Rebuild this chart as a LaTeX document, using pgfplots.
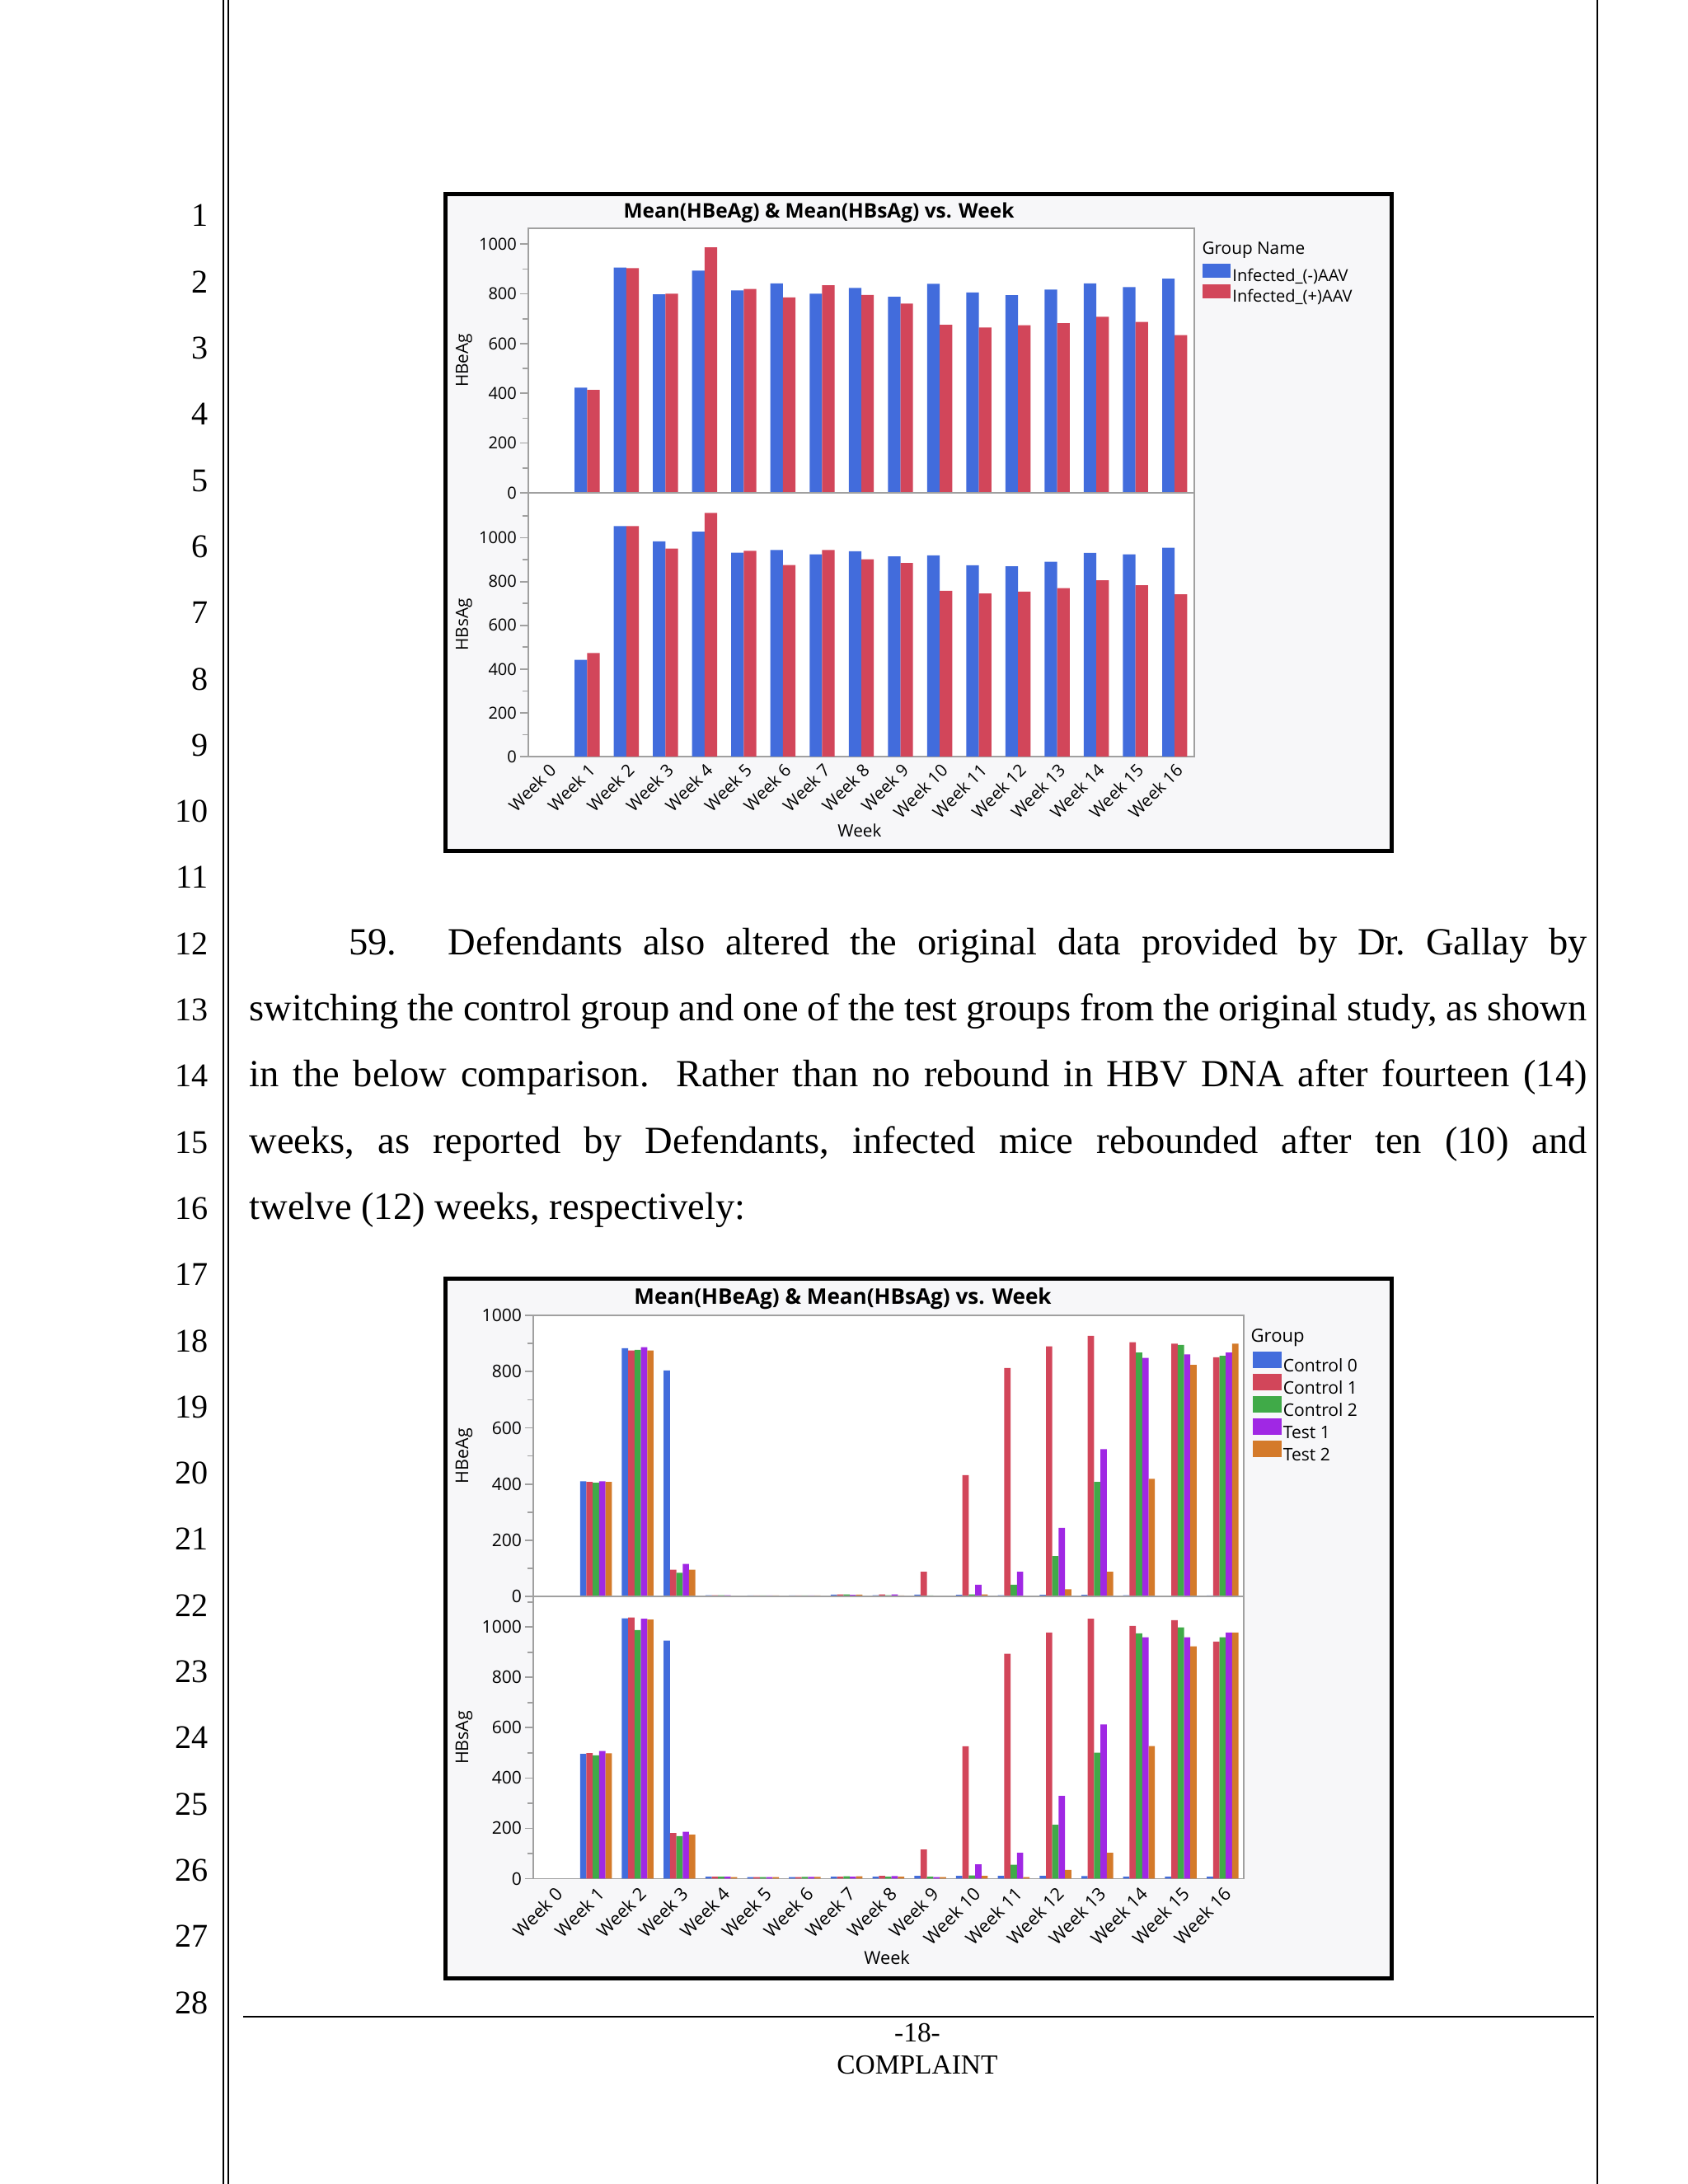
\documentclass[border=0pt]{standalone}
\usepackage{pgfplots}
\pgfplotsset{compat=1.18}
\usepackage{pgfplotstable}
\usepackage{fontspec}
\setmainfont{Liberation Serif}
\newfontfamily\cf{Open Sans}
\definecolor{jblue}{RGB}{66,108,220}
\definecolor{jred}{RGB}{210,70,90}
\definecolor{jgreen}{RGB}{64,170,72}
\definecolor{jpurple}{RGB}{160,40,228}
\definecolor{jorange}{RGB}{212,122,42}
\definecolor{jbg}{RGB}{247,247,249}
\definecolor{jframe}{RGB}{160,160,160}

% Chart 1: HBeAg
\pgfplotstableread{
x neg pos
1 423 414
2 906 904
3 798 801
4 894 987
5 814 820
6 842 786
7 801 835
8 824 796
9 788 761
10 841 676
11 806 665
12 795 674
13 817 682
14 842 708
15 827 687
16 861 634
}\cAe
% Chart 1: HBsAg
\pgfplotstableread{
x neg pos
1 442 473
2 1054 1054
3 984 951
4 1028 1114
5 932 941
6 945 876
7 925 945
8 939 902
9 915 885
10 920 758
11 875 746
12 870 754
13 891 770
14 931 806
15 925 783
16 955 742
}\cAs
% Chart 2: HBeAg
\pgfplotstableread{
x c0 c1 c2 t1 t2
1 410 408 405 410 408
2 883 875 877 887 875
3 804 96 85 116 96
4 5 5 5 5 3
5 4 4 4 4 4
6 4 4 4 4 4
7 7 8 8 6 7
8 5 8 5 8 4
9 7 88 4 2 2
10 6 432 8 42 8
11 5 813 42 88 2
12 6 890 144 244 26
13 6 927 408 524 88
14 5 904 868 849 419
15 3 899 895 861 824
16 4 851 856 868 899
}\cBe
% Chart 2: HBsAg
\pgfplotstableread{
x c0 c1 c2 t1 t2
1 496 499 490 507 498
2 1035 1038 988 1033 1030
3 946 181 169 186 175
4 8 8 8 8 6
5 6 6 6 6 6
6 6 6 7 7 7
7 8 8 9 8 9
8 8 11 8 10 8
9 11 116 8 6 6
10 11 526 13 57 11
11 11 894 55 103 6
12 11 978 214 329 35
13 10 1033 501 613 103
14 8 1004 975 959 527
15 8 1027 999 959 923
16 8 942 959 978 978
}\cBs

\pgfplotsset{
  jmp/.style={
    scale only axis, clip=false,
    xmin=-0.5, xmax=16.5, ymin=0,
    axis background/.style={fill=white},
    axis line style={draw=jframe, line width=0.5pt},
    tick align=outside, ytick pos=left,
    major tick length=3pt, minor tick length=2.2pt,
    tick style={draw=jframe, line width=0.5pt},
    ytick={0,200,...,1000}, minor ytick={100,300,...,1100},
    xtick style={draw=none},
    /pgf/number format/assume math mode=true,
    /pgf/number format/1000 sep={},
    legend cell align=left,
  },
  jlegA/.style={draw=none, legend image code/.code={\fill[##1] (0pt,-0.4pt) rectangle (10.2pt,4.7pt);}},
  jlegB/.style={draw=none, legend image code/.code={\fill[##1] (0pt,-0.5pt) rectangle (10.5pt,5.5pt);}},
}
\newcommand\wk{Week 0,Week 1,Week 2,Week 3,Week 4,Week 5,Week 6,Week 7,Week 8,Week 9,Week 10,Week 11,Week 12,Week 13,Week 14,Week 15,Week 16}

\begin{document}
\begin{tikzpicture}
\useasboundingbox (0,0) rectangle (612pt,791.894pt);
\fill[white] (0,0) rectangle (612pt,791.894pt);

\begin{scope}[shift={(0pt,791.894pt)}, x=0.298828pt, y=-0.298828pt]
  % pleading-paper rules
  \draw[line width=0.6pt] (270.7,0) -- (270.7,2650);
  \draw[line width=0.6pt] (277.3,0) -- (277.3,2650);
  \draw[line width=0.6pt] (1938,0) -- (1938,2650);
  \foreach \n in {1,...,28} {
    \node[anchor=base east, inner sep=0pt, font=\fontsize{12}{14}\selectfont] at (253,{275+80.3*(\n-1)}) {\n};
  }
  % paragraph
  \node[anchor=base west, inner sep=0pt] at (302,1158.3) {\vtop{\hsize=485pt \parindent=0pt \leftskip=0pt \rightskip=0pt \parfillskip=0pt plus 1fil
    \fontsize{13.9}{24}\selectfont \frenchspacing \tolerance=9999
    \noindent\hspace*{36pt}\makebox[36pt][l]{59.}Defendants also altered the original data provided by Dr. Gallay by\linebreak
    switching the control group and one of the test groups from the original study, as shown\linebreak
    in the below comparison.\ \ Rather than no rebound in HBV DNA after fourteen (14)\linebreak
    weeks, as reported by Defendants, infected mice rebounded after ten (10) and\linebreak
    twelve (12) weeks, respectively:\par}};
  % footer
  \draw[line width=0.6pt] (295,2446.7) -- (1934,2446.7);
  \node[anchor=base, inner sep=0pt, font=\fontsize{10}{12}\selectfont] at (1113,2477) {-18-};
  \node[anchor=base, inner sep=0pt, font=\fontsize{10}{12}\selectfont] at (1113,2517) {COMPLAINT};
  % chart frames
  \fill[jbg] (540.5,235.5) rectangle (1688.5,1032.5);
  \draw[line width=1.5pt] (540.5,235.5) rectangle (1688.5,1032.5);
  \fill[jbg] (540.5,1551.5) rectangle (1688.5,2400.5);
  \draw[line width=1.5pt] (540.5,1551.5) rectangle (1688.5,2400.5);
  % titles
  \node[anchor=base, inner sep=0pt, font=\cf\bfseries\fontsize{7.3}{8}\selectfont] at (993.5,264.7) {Mean(HBeAg) \& Mean(HBsAg) vs. Week};
  \node[anchor=base, inner sep=0pt, font=\cf\bfseries\fontsize{7.8}{9}\selectfont] at (1022.5,1582.3) {Mean(HBeAg) \& Mean(HBsAg) vs. Week};
\end{scope}

% ===== Chart 1 top: HBeAg =====
\begin{axis}[jmp, at={(191.55pt,613.20pt)}, anchor=south west,
  width=241.45pt, height=95.92pt, ymax=1064,
  xtick=\empty,
  yticklabel style={font=\cf\fontsize{6}{7}\selectfont, inner sep=1pt},
  ylabel={HBeAg},
  ylabel style={font=\cf\fontsize{6.2}{7}\selectfont, at={(axis description cs:-0.0965,0.5)}, anchor=center},
  legend style={at={(axis description cs:1.012,0.868)}, anchor=north west, draw=none, fill=none,
    inner sep=0pt, font=\cf\fontsize{6}{7}\selectfont, row sep=-1pt,
    nodes={inner sep=0.6pt, text height=4.85pt, text depth=1.4pt}},
]
\addplot[ybar, jlegA, bar width=0.32, bar shift=-0.16, fill=jblue] table[x=x,y=neg]{\cAe};
\addplot[ybar, jlegA, bar width=0.32, bar shift=0.16, fill=jred] table[x=x,y=pos]{\cAe};
\legend{Infected\_(-)AAV, Infected\_(+)AAV}
\node[anchor=west, inner sep=0pt, font=\cf\fontsize{6.2}{7}\selectfont] at (axis description cs:1.011,0.919) {Group Name};
\end{axis}

% ===== Chart 1 bottom: HBsAg =====
\begin{axis}[jmp, at={(191.55pt,517.57pt)}, anchor=south west,
  width=241.45pt, height=95.62pt, ymax=1206,
  xtick={0,...,16}, xticklabels/.expand once=\wk,
  xticklabel shift=-2.5pt,
  xticklabel style={rotate=45, anchor=north east, inner sep=1pt, font=\cf\fontsize{6.2}{7}\selectfont},
  yticklabel style={font=\cf\fontsize{6}{7}\selectfont, inner sep=1pt},
  ylabel={HBsAg},
  ylabel style={font=\cf\fontsize{6.2}{7}\selectfont, at={(axis description cs:-0.0965,0.5)}, anchor=center},
  xlabel={Week},
  xlabel style={font=\cf\fontsize{6.2}{7}\selectfont, at={(axis description cs:0.4975,-0.281)}, anchor=center},
]
\addplot[ybar, jlegA, bar width=0.32, bar shift=-0.16, fill=jblue] table[x=x,y=neg]{\cAs};
\addplot[ybar, jlegA, bar width=0.32, bar shift=0.16, fill=jred] table[x=x,y=pos]{\cAs};
\end{axis}

% ===== Chart 2 top: HBeAg =====
\begin{axis}[jmp, at={(193.34pt,212.98pt)}, anchor=south west,
  width=257.50pt, height=101.99pt, ymax=1000,
  xtick=\empty,
  yticklabel style={font=\cf\fontsize{6.3}{7}\selectfont, inner sep=1pt},
  ylabel={HBeAg},
  ylabel style={font=\cf\fontsize{6.4}{7}\selectfont, at={(axis description cs:-0.0975,0.5)}, anchor=center},
  legend style={at={(axis description cs:1.012,0.873)}, anchor=north west, draw=none, fill=none,
    inner sep=0pt, font=\cf\fontsize{6.3}{7}\selectfont, row sep=-1.5pt,
    nodes={inner sep=0.6pt, text height=5.3pt, text depth=1.6pt}},
]
\addplot[ybar, jlegB, bar width=0.152, bar shift=-0.304, fill=jblue] table[x=x,y=c0]{\cBe};
\addplot[ybar, jlegB, bar width=0.152, bar shift=-0.152, fill=jred] table[x=x,y=c1]{\cBe};
\addplot[ybar, jlegB, bar width=0.152, bar shift=0, fill=jgreen] table[x=x,y=c2]{\cBe};
\addplot[ybar, jlegB, bar width=0.152, bar shift=0.152, fill=jpurple] table[x=x,y=t1]{\cBe};
\addplot[ybar, jlegB, bar width=0.152, bar shift=0.304, fill=jorange] table[x=x,y=t2]{\cBe};
\legend{Control 0, Control 1, Control 2, Test 1, Test 2}
\node[anchor=west, inner sep=0pt, font=\cf\fontsize{6.6}{7}\selectfont] at (axis description cs:1.0096,0.921) {Group};
\end{axis}

% ===== Chart 2 bottom: HBsAg =====
\begin{axis}[jmp, at={(193.34pt,110.72pt)}, anchor=south west,
  width=257.50pt, height=102.26pt, ymax=1121,
  xtick={0,...,16}, xticklabels/.expand once=\wk,
  xticklabel shift=-2pt,
  xticklabel style={rotate=45, anchor=north east, inner sep=1pt, font=\cf\fontsize{6.5}{7}\selectfont},
  yticklabel style={font=\cf\fontsize{6.3}{7}\selectfont, inner sep=1pt},
  ylabel={HBsAg},
  ylabel style={font=\cf\fontsize{6.4}{7}\selectfont, at={(axis description cs:-0.0975,0.5)}, anchor=center},
  xlabel={Week},
  xlabel style={font=\cf\fontsize{6.5}{7}\selectfont, at={(axis description cs:0.498,-0.279)}, anchor=center},
]
\addplot[ybar, jlegB, bar width=0.152, bar shift=-0.304, fill=jblue] table[x=x,y=c0]{\cBs};
\addplot[ybar, jlegB, bar width=0.152, bar shift=-0.152, fill=jred] table[x=x,y=c1]{\cBs};
\addplot[ybar, jlegB, bar width=0.152, bar shift=0, fill=jgreen] table[x=x,y=c2]{\cBs};
\addplot[ybar, jlegB, bar width=0.152, bar shift=0.152, fill=jpurple] table[x=x,y=t1]{\cBs};
\addplot[ybar, jlegB, bar width=0.152, bar shift=0.304, fill=jorange] table[x=x,y=t2]{\cBs};
\end{axis}
\end{tikzpicture}
\end{document}
